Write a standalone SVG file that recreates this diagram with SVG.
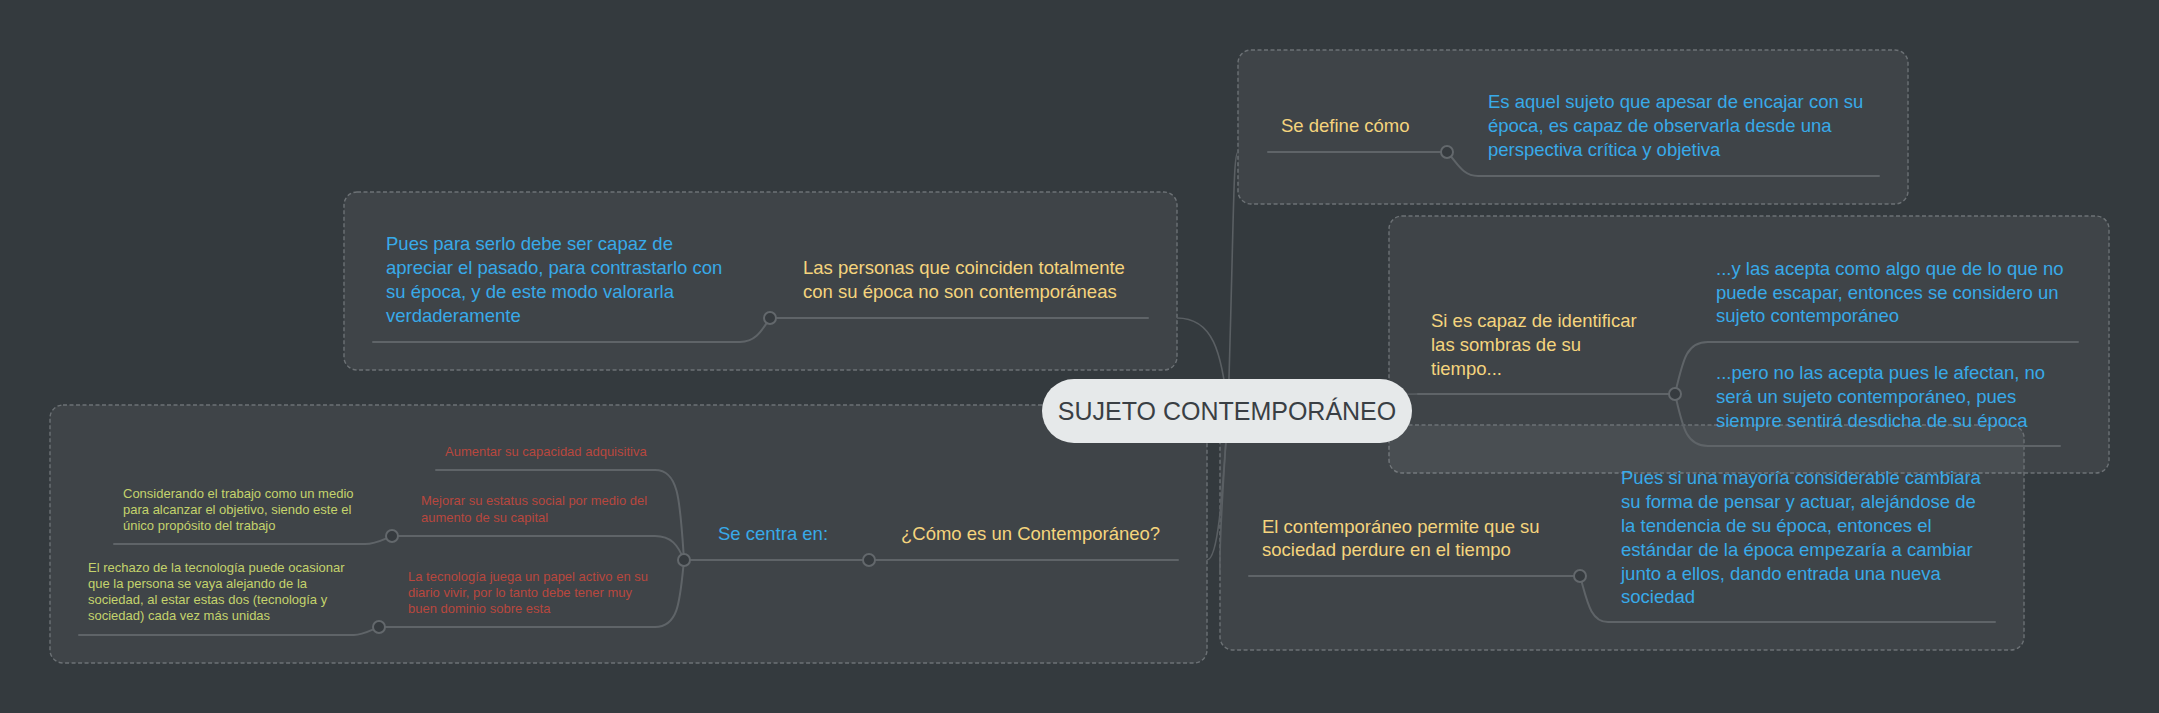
<svg xmlns="http://www.w3.org/2000/svg" width="2159" height="713" viewBox="0 0 2159 713">
<style>
.bg{fill:#343a3e}
.bd{fill:#ffffff;fill-opacity:0.055;stroke:#6c7175;stroke-width:1.4;stroke-dasharray:4 2.5}
.ln{fill:none;stroke:#5f6468;stroke-width:2;stroke-linecap:round}
.tr{fill:none;stroke:#5a5f63;stroke-width:1.6}
.dot{fill:#363b3f;stroke:#63686c;stroke-width:2}
text{font-family:"Liberation Sans",Arial,sans-serif}
.m{font-size:18.5px}
.s{font-size:13px}
.y{fill:#f5d47d}
.b{fill:#38aae8}
.r{fill:#b8473e}
.g{fill:#c4d36c}
.c{font-size:25px;fill:#3a3f44}
</style>
<rect class="bg" x="0" y="0" width="2159" height="713"/>
<g id="boundaries">
<rect id="bnd-define" class="bd" x="1238" y="50" width="670" height="154" rx="13"/>
<rect id="bnd-sombras" class="bd" x="1389" y="216" width="720" height="257" rx="13"/>
<rect id="bnd-perdure" class="bd" x="1220" y="425" width="804" height="225" rx="13"/>
<rect id="bnd-personas" class="bd" x="344" y="192" width="833" height="178" rx="13"/>
<rect id="bnd-como" class="bd" x="50" y="405" width="1157" height="258" rx="13"/>
</g>
<g id="connectors">
<path class="tr" d="M1228,411 C1234,220 1233,152 1238,152"/>
<path class="tr" d="M1228,411 C1222,350 1212,318 1177,318"/>
<path class="tr" d="M1228,411 C1222,500 1218,560 1207,560"/>
<path class="tr" d="M1228,411 C1224,470 1219,540 1220,575"/>
<path class="tr" d="M1228,411 C1300,400 1370,394 1418,394"/>
<path class="ln" d="M1268,152 L1447,152"/>
<path class="ln" d="M1447,152 C1457,162 1462,176 1478,176 L1879,176"/>
<path class="ln" d="M1418,394 L1675,394"/>
<path class="ln" d="M1675,394 C1683,360 1686,342 1708,342 L2078,342"/>
<path class="ln" d="M1675,394 C1683,428 1686,446 1708,446 L2060,446"/>
<path class="ln" d="M1249,576 L1580,576"/>
<path class="ln" d="M1580,576 C1587,600 1590,622 1608,622 L1995,622"/>
<path class="ln" d="M1148,318 L770,318"/>
<path class="ln" d="M770,318 C762,330 756,342 740,342 L373,342"/>
<path class="ln" d="M1178,560 L684,560"/>
<path class="ln" d="M684,560 C680,500 679,470 655,470 L436,470"/>
<path class="ln" d="M684,560 C678,545 671,536 655,536 L392,536"/>
<path class="ln" d="M684,560 C680,600 679,627 655,627 L379,627"/>
<path class="ln" d="M392,536 C382,540 376,544 365,544 L114,544"/>
<path class="ln" d="M379,627 C369,631 363,635 354,635 L79,635"/>
<circle class="dot" cx="1447" cy="152" r="6"/>
<circle class="dot" cx="1675" cy="394" r="6"/>
<circle class="dot" cx="1580" cy="576" r="6"/>
<circle class="dot" cx="770" cy="318" r="6"/>
<circle class="dot" cx="869" cy="560" r="6"/>
<circle class="dot" cx="684" cy="560" r="6"/>
<circle class="dot" cx="392" cy="536" r="6"/>
<circle class="dot" cx="379" cy="627" r="6"/>
</g>
<g id="central">
<rect x="1042" y="379" width="370" height="64" rx="32" fill="#e6e9ea"/>
<text class="c" x="1227" y="420" text-anchor="middle">SUJETO CONTEMPORÁNEO</text>
</g>
<g id="n-define"><text class="m y" x="1281" y="132">Se define cómo</text></g>
<g id="n-define-1"><text class="m b" x="1488" y="108">Es aquel sujeto que apesar de encajar con su</text><text class="m b" x="1488" y="132">época, es capaz de observarla desde una</text><text class="m b" x="1488" y="156">perspectiva crítica y objetiva</text></g>
<g id="n-sombras"><text class="m y" x="1431" y="327">Si es capaz de identificar</text><text class="m y" x="1431" y="351">las sombras de su</text><text class="m y" x="1431" y="375">tiempo...</text></g>
<g id="n-sombras-1"><text class="m b" x="1716" y="275">...y las acepta como algo que de lo que no</text><text class="m b" x="1716" y="299">puede escapar, entonces se considero un</text><text class="m b" x="1716" y="322">sujeto contemporáneo</text></g>
<g id="n-sombras-2"><text class="m b" x="1716" y="379">...pero no las acepta pues le afectan, no</text><text class="m b" x="1716" y="403">será un sujeto contemporáneo, pues</text><text class="m b" x="1716" y="427">siempre sentirá desdicha de su época</text></g>
<g id="n-perdure"><text class="m y" x="1262" y="533">El contemporáneo permite que su</text><text class="m y" x="1262" y="556">sociedad perdure en el tiempo</text></g>
<g id="n-perdure-1"><text class="m b" x="1621" y="484">Pues si una mayoría considerable cambiara</text><text class="m b" x="1621" y="508">su forma de pensar y actuar, alejándose de</text><text class="m b" x="1621" y="532">la tendencia de su época, entonces el</text><text class="m b" x="1621" y="556">estándar de la época empezaría a cambiar</text><text class="m b" x="1621" y="580">junto a ellos, dando entrada una nueva</text><text class="m b" x="1621" y="603">sociedad</text></g>
<g id="n-personas"><text class="m y" x="803" y="274">Las personas que coinciden totalmente</text><text class="m y" x="803" y="298">con su época no son contemporáneas</text></g>
<g id="n-personas-1"><text class="m b" x="386" y="250">Pues para serlo debe ser capaz de</text><text class="m b" x="386" y="274">apreciar el pasado, para contrastarlo con</text><text class="m b" x="386" y="298">su época, y de este modo valorarla</text><text class="m b" x="386" y="322">verdaderamente</text></g>
<g id="n-como"><text class="m y" x="901" y="540">¿Cómo es un Contemporáneo?</text></g>
<g id="n-centra"><text class="m b" x="718" y="540">Se centra en:</text></g>
<g id="n-aumentar"><text class="s r" x="445" y="456">Aumentar su capacidad adquisitiva</text></g>
<g id="n-mejorar"><text class="s r" x="421" y="505">Mejorar su estatus social por medio del</text><text class="s r" x="421" y="522">aumento de su capital</text></g>
<g id="n-tecnologia"><text class="s r" x="408" y="581">La tecnología juega un papel activo en su</text><text class="s r" x="408" y="597">diario vivir, por lo tanto debe tener muy</text><text class="s r" x="408" y="613">buen dominio sobre esta</text></g>
<g id="n-considerando"><text class="s g" x="123" y="498">Considerando el trabajo como un medio</text><text class="s g" x="123" y="514">para alcanzar el objetivo, siendo este el</text><text class="s g" x="123" y="530">único propósito del trabajo</text></g>
<g id="n-rechazo"><text class="s g" x="88" y="572">El rechazo de la tecnología puede ocasionar</text><text class="s g" x="88" y="588">que la persona se vaya alejando de la</text><text class="s g" x="88" y="604">sociedad, al estar estas dos (tecnología y</text><text class="s g" x="88" y="620">sociedad) cada vez más unidas</text></g>
</svg>
